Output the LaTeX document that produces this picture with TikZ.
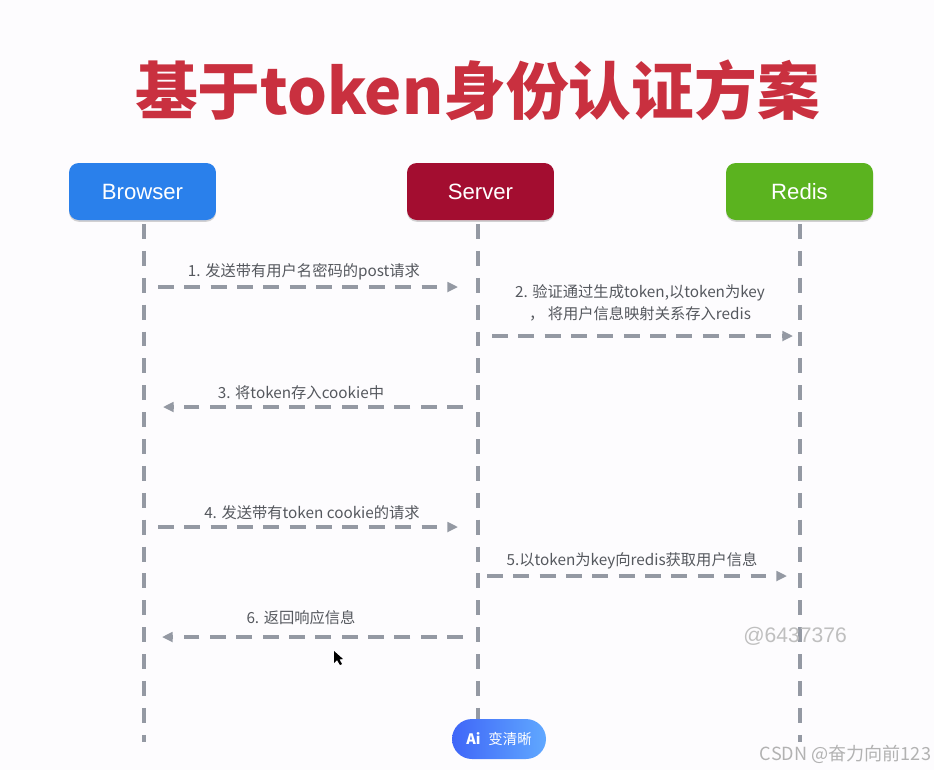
\documentclass[tikz,border=0pt]{standalone}
\usepackage{fontspec}
\setmainfont{Liberation Sans}
\newfontfamily\cjk{Noto Sans CJK SC}
\usetikzlibrary{arrows.meta,shadows}
\definecolor{browserblue}{HTML}{2A80EB}
\definecolor{serverred}{HTML}{A30D30}
\definecolor{redisgreen}{HTML}{5BB31F}
\definecolor{linegray}{HTML}{9499A3}
\definecolor{titlered}{HTML}{C9303F}
\definecolor{textgray}{HTML}{55585E}
\definecolor{pagebg}{HTML}{FDFCFE}
\definecolor{pillleft}{HTML}{3F66F8}
\definecolor{pillright}{HTML}{60A8FF}
\tikzset{
  actor/.style={rounded corners=5.5pt,minimum width=2.94cm,minimum height=1.14cm,text=white,
    font=\fontsize{12.6}{14}\selectfont,inner sep=0pt,
    drop shadow={shadow xshift=0pt,shadow yshift=-1pt,opacity=.35}},
  lifeline/.style={draw=linegray,line width=1.75pt,dash pattern=on 8.5pt off 6.8pt},
  msg/.style={draw=linegray,line width=1.75pt,dash pattern=on 9pt off 6pt,
    -{Triangle[length=6pt,width=5.5pt,fill=linegray]}},
  msglabel/.style={text=textgray,font=\cjk\fontsize{8.7}{10}\selectfont,inner sep=0pt},
  faint/.style={text=black!25,inner sep=0pt}
}
\begin{document}
\begin{tikzpicture}
    \def\x{0.02}
    \def\y{-0.02}
    \path [fill=pagebg] (0*\x, 0*\y) rectangle (934*\x, 770*\y);
    \node (Title) [text=titlered,inner sep=0pt,font=\cjk\bfseries\fontsize{35.7}{40}\selectfont] at (477.5*\x, 90*\y) {基于token身份认证方案};
    \node (Browser) [actor,fill=browserblue] at (142.5*\x, 191.5*\y) {Browser};
    \node (Server) [actor,fill=serverred] at (480.5*\x, 191.5*\y) {Server};
    \node (Redis) [actor,fill=redisgreen] at (799.5*\x, 191.5*\y) {Redis};
    % lifelines
    \coordinate (B_top) at (144*\x, 224*\y);
    \coordinate (B_end) at (144*\x, 742*\y);
    \coordinate (S_top) at (478*\x, 224*\y);
    \coordinate (S_end) at (478*\x, 742*\y);
    \coordinate (R_top) at (800*\x, 224*\y);
    \coordinate (R_end) at (800*\x, 742*\y);
    \path [lifeline] (B_top) -- (B_end);
    \path [lifeline] (S_top) -- (S_end);
    \path [lifeline] (R_top) -- (R_end);
    % messages
    \coordinate (M1_a) at (158*\x, 287*\y);
    \coordinate (M1_b) at (458*\x, 287*\y);
    \coordinate (M2_a) at (492*\x, 336*\y);
    \coordinate (M2_b) at (793*\x, 336*\y);
    \coordinate (M3_a) at (463*\x, 407*\y);
    \coordinate (M3_b) at (163*\x, 407*\y);
    \coordinate (M4_a) at (158*\x, 527*\y);
    \coordinate (M4_b) at (458*\x, 527*\y);
    \coordinate (M5_a) at (487*\x, 576*\y);
    \coordinate (M5_b) at (787*\x, 576*\y);
    \coordinate (M6_a) at (463*\x, 637*\y);
    \coordinate (M6_b) at (162*\x, 637*\y);
    \path [msg] (M1_a) -- (M1_b);
    \path [msg] (M2_a) -- (M2_b);
    \path [msg] (M3_a) -- (M3_b);
    \path [msg] (M4_a) -- (M4_b);
    \path [msg] (M5_a) -- (M5_b);
    \path [msg] (M6_a) -- (M6_b);
    \node (L1) [msglabel] at (304*\x, 271.5*\y) {1. 发送带有用户名密码的post请求};
    \node (L2a) [msglabel] at (640*\x, 292.5*\y) {2. 验证通过生成token,以token为key};
    \node (L2b) [msglabel] at (640*\x, 313.5*\y) {， 将用户信息映射关系存入redis};
    \node (L3) [msglabel] at (301*\x, 392.5*\y) {3. 将token存入cookie中};
    \node (L4) [msglabel] at (312*\x, 512.5*\y) {4. 发送带有token cookie的请求};
    \node (L5) [msglabel] at (632*\x, 560.5*\y) {5.以token为key向redis获取用户信息};
    \node (L6) [msglabel] at (301*\x, 617.5*\y) {6. 返回响应信息};
    % marks on the screenshot
    \node (Stamp) [faint,font=\fontsize{12}{13}\selectfont] at (795*\x, 636*\y) {@6437376};
    \node (Csdn) [faint,text=black!30,font=\cjk\fontsize{10.3}{11}\selectfont] at (845.5*\x, 754*\y) {CSDN @奋力向前123};
    \node (Sharpen) [rounded corners=11.4pt,minimum width=1.88cm,minimum height=0.8cm,inner sep=0pt,
      left color=pillleft,right color=pillright,text=white,
      font=\cjk\fontsize{8.2}{9}\selectfont] at (499*\x, 739*\y) {\textbf{Ai}\,\, 变清晰};
    \fill (334*\x, 651*\y) -- (334*\x, 663*\y) -- (337*\x, 660*\y) -- (340*\x, 665*\y) -- (342*\x, 664*\y) -- (339.5*\x, 659.5*\y) -- (343*\x, 659*\y) -- cycle;
  \end{tikzpicture}
\end{document}
